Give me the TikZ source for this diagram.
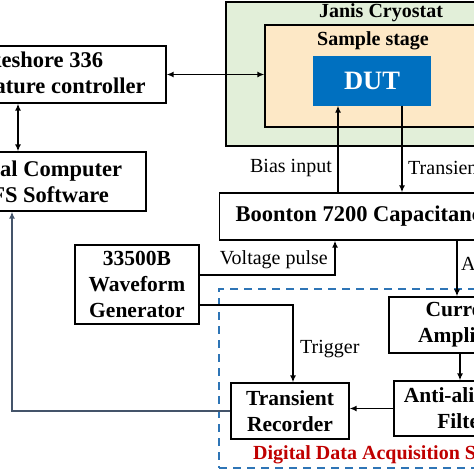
\documentclass[tikz,border=0pt]{standalone}
\usepackage{fontspec}
\setmainfont{Liberation Serif}
\usetikzlibrary{arrows.meta}
\definecolor{cryogreen}{HTML}{E2EFD9}
\definecolor{stageorange}{HTML}{FDE8C6}
\definecolor{dutblue}{HTML}{0070C0}
\definecolor{daqblue}{HTML}{2E75B6}
\definecolor{daqred}{HTML}{C00000}
\definecolor{pcline}{HTML}{44546A}

\begin{document}
\begin{tikzpicture}[x=1pt,y=-1pt,
    box/.style={draw,line width=1.3pt,align=center,inner sep=0pt,font=\bfseries\fontsize{21.5}{26}\selectfont},
    bigtext/.style={align=center,inner sep=0pt,font=\bfseries\fontsize{22.5}{26}\selectfont},
    title/.style={font=\bfseries\fontsize{20}{24}\selectfont,inner sep=0pt},
    lbl/.style={font=\fontsize{20}{24}\selectfont,inner sep=3pt},
    link/.style={line width=1.6pt,-{Latex[length=7pt,width=6pt]}},
    dlink/.style={line width=1.6pt,{Latex[length=7pt,width=6pt]}-{Latex[length=7pt,width=6pt]}}]
    \useasboundingbox (0,0) rectangle (474,474);
    \clip (0,0) rectangle (474,474);
    % Cryostat ===============================================
    \node[box,fill=cryogreen,minimum width=500pt,minimum height=144pt] (cryo)  at (476,74)   {};
    \node[title]                                                 (cryot) at (381,13)   {Janis Cryostat};
    \node[box,fill=stageorange,minimum width=450pt,minimum height=102pt] (stage) at (490,76) {};
    \node[title]                                                 (staget) at (373,41)  {Sample stage};
    \node[box,fill=dutblue,draw=dutblue,text=white,minimum width=116pt,minimum height=48pt,
          font=\bfseries\fontsize{26.5}{30}\selectfont]          (dut)   at (372,81)   {DUT};
    % Instruments ============================================
    \node[box,minimum width=259pt,minimum height=57pt] (lake) at (36.5,74.5) {};
    \node[bigtext] (laket) at (33,75) {Lakeshore 336\\Temperature controller};
    \node[box,minimum width=230pt,minimum height=59pt] (pc)   at (31,181.5) {};
    \node[bigtext] (pct) at (28,182) {Personal Computer\\DLTFS Software};
    \node[box,bigtext,anchor=west,inner xsep=16pt,minimum height=47pt] (boonton) at (219,216.5) {Boonton 7200 Capacitance Meter};
    \node[box,minimum width=124pt,minimum height=79pt] (wave) at (137,284.5)  {33500B\\Waveform\\Generator};
    % DAQ ====================================================
    \node[draw=daqblue,line width=1.8pt,dash pattern=on 8pt off 6pt,inner sep=0pt,
          minimum width=501pt,minimum height=179pt]    (daq)  at (469.5,378.5) {};
    \node[box,minimum width=118pt,minimum height=56pt] (rec)  at (290,411)    {Transient\\Recorder};
    \node[box,minimum width=148pt,minimum height=56pt] (amp)  at (463,325)    {Current\\Amplifier};
    \node[box,minimum width=138pt,minimum height=55pt] (filt) at (463,408.5)  {Anti-aliasing\\Filter};
    \node[title,text=daqred,anchor=west] (daqt) at (253,455) {Digital Data Acquisition System};
    % Connectors =============================================
    \coordinate (lpc)    at (18,0);
    \coordinate (biasx)  at (338,0);
    \coordinate (transx) at (402,0);
    \coordinate (pulsex) at (335,275);
    \coordinate (trigx)  at (293,305);
    \coordinate (anax)   at (457,0);
    \coordinate (filtx)  at (460,0);
    \coordinate (pcx)    at (12,0);
    \draw[dlink] (lake.east) -- (lake.east -| stage.west);
    \draw[dlink] (lake.south -| lpc) -- (pc.north -| lpc);
    \draw[link] (boonton.north -| biasx) -- (dut.south -| biasx);
    \draw[link] (dut.south -| transx) -- (boonton.north -| transx);
    \draw[link] (wave.east |- pulsex) -- (pulsex) -- (boonton.south -| pulsex);
    \draw[link] (wave.east |- trigx) -- (trigx) -- (rec.north -| trigx);
    \draw[link] (boonton.south -| anax) -- (amp.north -| anax);
    \draw[link] (amp.south -| filtx) -- (filt.north -| filtx);
    \draw[link] (filt.west) -- (rec.east |- filt.west);
    \draw[link,pcline] (rec.west) -- (rec.west -| pcx) -- (pc.south -| pcx);
    % Labels
    \node[lbl,anchor=east] (biasl)  at (335,168) {Bias input};
    \node[lbl,anchor=west] (transl) at (405,168) {Transient};
    \node[lbl,anchor=east] (pulsel) at (331,260) {Voltage pulse};
    \node[lbl,anchor=west] (trigl)  at (297,349) {Trigger};
    \node[lbl,anchor=west] (anal)   at (458,266) {Analog output};
\end{tikzpicture}
\end{document}
